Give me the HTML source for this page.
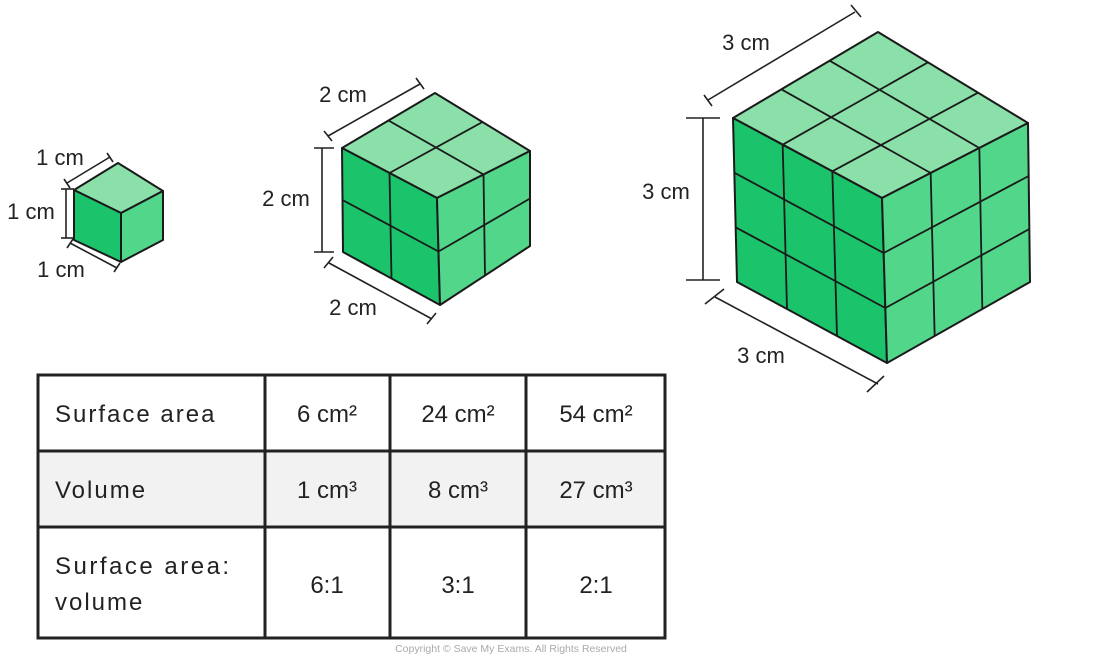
<!DOCTYPE html>
<html><head><meta charset="utf-8"><style>
html,body{margin:0;padding:0;background:#fff;}
svg{display:block;}
text{font-family:"Liberation Sans","DejaVu Sans",sans-serif;fill:#222;}
</style></head><body>
<svg id="s" width="1100" height="669" viewBox="0 0 1100 669" xmlns="http://www.w3.org/2000/svg">
<g id="cubes"></g>
<g stroke="#222" stroke-width="1.6" fill="none">
<line x1="67" y1="183" x2="110" y2="157"/><line x1="64" y1="179" x2="70" y2="188"/><line x1="107" y1="153" x2="113" y2="162"/>
<line x1="66" y1="189" x2="66" y2="238"/><line x1="61" y1="189" x2="74" y2="189"/><line x1="61" y1="238" x2="74" y2="238"/>
<line x1="70" y1="243" x2="117" y2="268"/><line x1="67" y1="248" x2="73" y2="239"/><line x1="114" y1="272" x2="120" y2="263"/>
<line x1="328" y1="136" x2="420" y2="84"/><line x1="324" y1="131" x2="332" y2="141"/><line x1="416" y1="78" x2="424" y2="89"/>
<line x1="322" y1="148" x2="322" y2="252"/><line x1="314" y1="148" x2="334" y2="148"/><line x1="314" y1="252" x2="334" y2="252"/>
<line x1="329" y1="263" x2="432" y2="319"/><line x1="324" y1="268" x2="333" y2="257"/><line x1="427" y1="324" x2="436" y2="313"/>
<line x1="708" y1="100" x2="855" y2="12"/><line x1="704" y1="95" x2="712" y2="106"/><line x1="851" y1="5" x2="861" y2="17"/>
<line x1="703" y1="118" x2="703" y2="280"/><line x1="686" y1="118" x2="720" y2="118"/><line x1="686" y1="280" x2="720" y2="280"/>
<line x1="715" y1="297" x2="878" y2="384"/><line x1="705" y1="304" x2="724" y2="289"/><line x1="867" y1="392" x2="884" y2="376"/>
</g>
<g font-size="22">
<text x="60" y="165" text-anchor="middle">1 cm</text>
<text x="31" y="219" text-anchor="middle">1 cm</text>
<text x="61" y="277" text-anchor="middle">1 cm</text>
<text x="343" y="102" text-anchor="middle">2 cm</text>
<text x="286" y="206" text-anchor="middle">2 cm</text>
<text x="353" y="315" text-anchor="middle">2 cm</text>
<text x="746" y="50" text-anchor="middle">3 cm</text>
<text x="666" y="199" text-anchor="middle">3 cm</text>
<text x="761" y="363" text-anchor="middle">3 cm</text>
</g>
<rect x="38" y="451" width="627" height="76" fill="#f2f2f2"/>
<g stroke="#222" stroke-width="3" fill="none">
<rect x="38" y="375" width="627" height="263"/>
<line x1="38" y1="451" x2="665" y2="451"/><line x1="38" y1="527" x2="665" y2="527"/>
<line x1="265" y1="375" x2="265" y2="638"/><line x1="390" y1="375" x2="390" y2="638"/><line x1="526" y1="375" x2="526" y2="638"/>
</g>
<g font-size="24">
<text x="55" y="422" letter-spacing="2">Surface area</text>
<text x="55" y="498" letter-spacing="2">Volume</text>
<text x="55" y="574" letter-spacing="2.5">Surface area:</text>
<text x="55" y="610" letter-spacing="2">volume</text>
<text x="327" y="422" text-anchor="middle">6 cm²</text>
<text x="458" y="422" text-anchor="middle">24 cm²</text>
<text x="596" y="422" text-anchor="middle">54 cm²</text>
<text x="327" y="498" text-anchor="middle">1 cm³</text>
<text x="458" y="498" text-anchor="middle">8 cm³</text>
<text x="596" y="498" text-anchor="middle">27 cm³</text>
<text x="327" y="593" text-anchor="middle">6:1</text>
<text x="458" y="593" text-anchor="middle">3:1</text>
<text x="596" y="593" text-anchor="middle">2:1</text>
</g>
<text x="511" y="652" font-size="10.5" text-anchor="middle" style="fill:#aaa">Copyright © Save My Exams. All Rights Reserved</text>
</svg>
<script>
(function(){
var g=document.getElementById('cubes'),h='';
function L(a,b,t){return [a[0]+(b[0]-a[0])*t,a[1]+(b[1]-a[1])*t];}
function face(p,n,col){
 h+='<polygon points="'+p.map(function(q){return q.join(',')}).join(' ')+'" fill="'+col+'" stroke="#1a1a1a" stroke-width="2" stroke-linejoin="round"/>';
 for(var i=1;i<n;i++){var t=i/n;
  var a=L(p[0],p[1],t),b=L(p[3],p[2],t);
  h+='<line x1="'+a[0]+'" y1="'+a[1]+'" x2="'+b[0]+'" y2="'+b[1]+'" stroke="#1a1a1a" stroke-width="1.8"/>';
  a=L(p[0],p[3],t);b=L(p[1],p[2],t);
  h+='<line x1="'+a[0]+'" y1="'+a[1]+'" x2="'+b[0]+'" y2="'+b[1]+'" stroke="#1a1a1a" stroke-width="1.8"/>';
 }
}
function cube(T,LT,RT,F,LB,FB,RB,n){
 face([LT,T,RT,F],n,'#8ae0a8');
 face([LT,F,FB,LB],n,'#1bc46a');
 face([F,RT,RB,FB],n,'#52d68a');
}
cube([118,163],[74,190],[163,191],[121,213],[74,240],[121,262],[163,240],1);
cube([435,93],[342,148],[530,151],[437,198],[343,252],[440,305],[530,246],2);
cube([878,32],[733,118],[1028,123],[882,198],[737,282],[887,363],[1030,282],3);
g.innerHTML=h;
})();
</script>
</body></html>
